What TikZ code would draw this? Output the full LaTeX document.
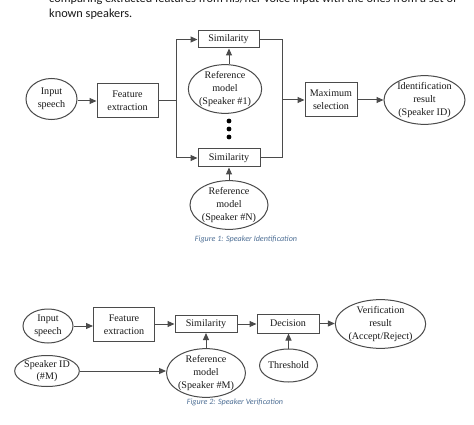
\documentclass[tikz,border=0pt]{standalone}
\usepackage{fontspec}
\setmainfont{Liberation Serif}
\newfontfamily\capfont{Carlito}
\usetikzlibrary{shapes.geometric,arrows.meta}
\definecolor{linegray}{RGB}{75,75,75}
\definecolor{capblue}{RGB}{79,112,150}
\definecolor{textdark}{RGB}{25,25,25}
\tikzset{
  blk/.style={draw=linegray, line width=1pt, rectangle, inner sep=0pt, align=center,
    font=\fontsize{10.1}{12.6}\selectfont, text=textdark},
  ell/.style={draw=linegray, line width=1pt, ellipse, inner sep=0pt, align=center,
    font=\fontsize{10.1}{12.6}\selectfont, text=textdark},
  arr/.style={draw=linegray, line width=1pt, -{Triangle[length=7pt,width=6pt]}},
  ln/.style={draw=linegray, line width=1pt},
  dotn/.style={circle, fill=black, inner sep=0pt, minimum size=4.8pt},
  figcap/.style={font=\capfont\itshape\fontsize{8.1}{9.6}\selectfont, text=capblue},
  body/.style={font=\capfont\fontsize{12.3}{14.6}\selectfont, text=textdark, inner sep=0pt, anchor=base west}
}
\begin{document}
\begin{tikzpicture}[x=1pt,y=-1pt]
\useasboundingbox (0,0) rectangle (474,425);
\fill[white] (0,0) rectangle (474,425);

% body text (cut at top, as in the reference)
\node[body] (t1) at (49,3) {comparing extracted features from his/her voice input with the ones from a set of};
\node[body] (t2) at (49,18) {known speakers.};

% ---------- Figure 1 ----------
\node[ell, minimum width=51pt, minimum height=41pt] (in1) at (51.5,99) {Input\\speech};
\node[blk, minimum width=61pt, minimum height=34pt] (fe1) at (127.5,101) {Feature\\extraction};
\node[blk, minimum width=61pt, minimum height=17pt] (sim1) at (228.5,39.5) {Similarity};
\node[ell, minimum width=69pt, minimum height=42pt] (ref1) at (225,89) {Reference\\model\\(Speaker \#1)};
\node[dotn] (d1) at (229,121) {};
\node[dotn] (d2) at (229,129) {};
\node[dotn] (d3) at (229,137) {};
\node[blk, minimum width=62pt, minimum height=18pt] (simN) at (229,158) {Similarity};
\node[ell, minimum width=78pt, minimum height=41pt] (refN) at (229,205) {Reference\\model\\(Speaker \#N)};
\node[blk, minimum width=52pt, minimum height=34pt] (ms) at (331,99.5) {Maximum\\selection};
\node[ell, minimum width=81pt, minimum height=44pt] (idr) at (424.5,100) {Identification\\result\\(Speaker ID)};
\node[figcap] (c1) at (246,239) {Figure 1: Speaker Identification};

\coordinate (sL) at (176,101);
\coordinate (mR) at (282,100);
\draw[arr] (in1.east |- 0,101) -- (fe1.west);
\draw[ln] (fe1.east) -- (sL);
\draw[arr] (sL) |- (sim1.west);
\draw[arr] (sL) |- (simN.west);
\draw[ln] (sim1.east) -| (mR);
\draw[ln] (simN.east) -| (mR);
\draw[arr] (mR) -- (mR -| ms.west);
\draw[arr] (ms.east |- idr.west) -- (idr.west);
\draw[arr] (ref1.north -| 229,0) -- (sim1.south -| 229,0);
\draw[arr] (refN.north) -- (simN.south);

% ---------- Figure 2 ----------
\node[ell, minimum width=50pt, minimum height=34pt] (in2) at (48,326) {Input\\speech};
\node[blk, minimum width=61pt, minimum height=34pt] (fe2) at (124,324.5) {Feature\\extraction};
\node[blk, minimum width=62pt, minimum height=17pt] (sim2) at (206,324) {Similarity};
\node[blk, minimum width=62pt, minimum height=19pt] (dec) at (288,323.5) {Decision};
\node[ell, minimum width=83pt, minimum height=44pt] (vr) at (380.5,324) {Verification\\result\\(Accept/Reject)};
\node[ell, minimum width=53pt, minimum height=33pt] (thr) at (288.5,365.5) {Threshold};
\node[ell, minimum width=61pt, minimum height=31pt] (sid) at (47,371) {Speaker ID\\(\#M)};
\node[ell, minimum width=77pt, minimum height=42pt] (refM) at (206,373) {Reference\\model\\(Speaker \#M)};
\node[figcap] (c2) at (235,402) {Figure 2: Speaker Verification};

\draw[arr] (in2.east) -- (in2.east -| fe2.west);
\draw[arr] (fe2.east |- sim2.west) -- (sim2.west);
\draw[arr] (sim2.east) -- (sim2.east -| dec.west);
\draw[arr] (dec.east) -- (dec.east -| vr.west);
\draw[arr] (thr.north) -- (thr.north |- dec.south);
\draw[arr] (refM.north) -- (sim2.south);
\draw[arr] (sid.east) -- (sid.east -| refM.west);
\end{tikzpicture}
\end{document}
